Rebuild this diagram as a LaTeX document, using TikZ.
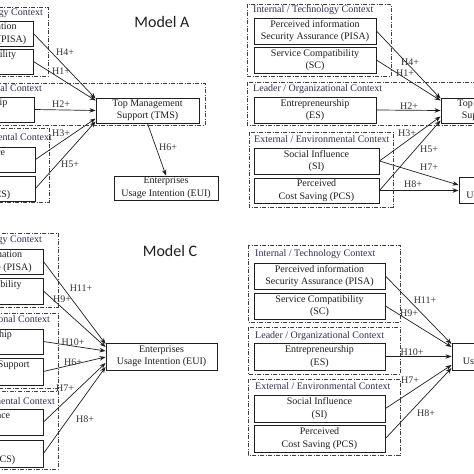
\documentclass[tikz,border=0pt]{standalone}
\usepackage{fontspec}
\setmainfont{Liberation Serif}
\newfontfamily\titlefont{Carlito}
\usetikzlibrary{arrows.meta}
\definecolor{ctx}{rgb}{0.2,0.18,0.32}
\definecolor{ink}{rgb}{0.12,0.12,0.12}
\begin{document}
\begin{tikzpicture}[x=1pt,y=-1pt,
  bx/.style={draw=ink, line width=0.9pt, fill=white, align=center, inner sep=0pt, font=\fontsize{10}{12.5}\selectfont, text=ink},
  grp/.style={draw=black!75, line width=0.8pt, dash pattern=on 4pt off 1.5pt on 1pt off 1.5pt},
  glab/.style={font=\fontsize{10}{12}\selectfont, text=ctx, inner sep=0pt},
  hl/.style={font=\fontsize{10}{12}\selectfont, text=black!80, inner sep=0.5pt},
  ar/.style={-{Stealth[length=6pt,width=4.5pt]}, line width=0.7pt, draw=ink},
  ttl/.style={font=\titlefont\fontsize{16}{18}\selectfont, text=ink}]
\clip (0,0) rectangle (474,474);
\useasboundingbox (0,0) rectangle (474,474);
\fill[white] (0,0) rectangle (474,474);

% ================= Model A =================
\draw[grp] (-97,7) rectangle (48,76);
\draw[grp] (-97,83) rectangle (205,125);
\draw[grp] (-95,128) rectangle (49,202);
\node[glab, anchor=east] (aTechL) at (43,13) {Internal / Technology Context};
\node[glab, anchor=east] (aOrgL) at (42,89) {Leader / Organizational Context};
\node[glab, anchor=east] (aEnvL) at (52,137) {External / Environmental Context};
\node[ttl] (aTitle) at (162,22) {Model A};
\node[bx, minimum width=122pt, minimum height=25pt] (aPISA) at (-28,33.5) {Perceived information\\Security Assurance (PISA)};
\node[bx, minimum width=122pt, minimum height=25pt] (aSC) at (-28,61.5) {Service Compatibility\\(SC)};
\node[bx, minimum width=122pt, minimum height=25pt] (aES) at (-27,109.5) {Entrepreneurship\\(ES)};
\node[bx, minimum width=125pt, minimum height=25pt] (aSI) at (-27.5,159.5) {Social Influence\\(SI)};
\node[bx, minimum width=125pt, minimum height=25pt] (aPCS) at (-27.5,188.5) {Perceived\\Cost Saving (PCS)};
\node[bx, minimum width=103pt, minimum height=25pt] (aTMS) at (147.5,110.5) {Top Management\\Support (TMS)};
\node[bx, minimum width=104pt, minimum height=24pt] (aEUI) at (166,188) {Enterprises\\Usage Intention (EUI)};
\draw[ar] (aPISA.east) -- ([yshift=-1pt]aTMS.north west);
\draw[ar] (aSC.east) -- ([yshift=-3pt]aTMS.north west);
\draw[ar] (aES.east) -- (aTMS.west);
\draw[ar] (aSI.east) -- ([yshift=-8pt]aTMS.west);
\draw[ar] (aPCS.east) -- ([yshift=-11pt]aTMS.west);
\draw[ar] (aTMS.south) -- (aEUI.north);
\node[hl] (aH4) at (65,52) {H4+};
\node[hl] (aH1) at (61,71) {H1+};
\node[hl] (aH2) at (61,104) {H2+};
\node[hl] (aH3) at (61,133) {H3+};
\node[hl] (aH5) at (70,164) {H5+};
\node[hl] (aH6) at (168,147) {H6+};

% ================= Model B =================
\draw[grp] (247,4) rectangle (391,76);
\draw[grp] (247,82) rectangle (551,125);
\draw[grp] (249,132) rectangle (393,207);
\node[glab, anchor=west] (bTechL) at (253,10) {Internal / Technology Context};
\node[glab, anchor=west] (bOrgL) at (253,89) {Leader / Organizational Context};
\node[glab, anchor=west] (bEnvL) at (254,139) {External / Environmental Context};
\node[bx, minimum width=122pt, minimum height=26pt] (bPISA) at (315,31) {Perceived information\\Security Assurance (PISA)};
\node[bx, minimum width=122pt, minimum height=26pt] (bSC) at (315,60) {Service Compatibility\\(SC)};
\node[bx, minimum width=122pt, minimum height=26pt] (bES) at (315,110) {Entrepreneurship\\(ES)};
\node[bx, minimum width=125pt, minimum height=26pt] (bSI) at (316.5,161) {Social Influence\\(SI)};
\node[bx, minimum width=125pt, minimum height=25pt] (bPCS) at (316.5,190.5) {Perceived\\Cost Saving (PCS)};
\node[bx, minimum width=103pt, minimum height=25pt] (bTMS) at (492.5,110.5) {Top Management\\Support (TMS)};
\node[bx, minimum width=104pt, minimum height=26pt] (bEUI) at (511,190) {Enterprises\\Usage Intention (EUI)};
\draw[ar] (bPISA.east) -- ([yshift=-1pt]bTMS.north west);
\draw[ar] (bSC.east) -- ([yshift=-3pt]bTMS.north west);
\draw[ar] (bES.east) -- (bTMS.west);
\draw[ar] (bSI.east) -- ([yshift=-6pt]bTMS.west);
\draw[ar] (bPCS.east) -- ([yshift=-10pt]bTMS.west);
\draw[ar] (bSI.east) -- ([yshift=5pt]bEUI.west);
\draw[ar] (bPCS.east) -- (bPCS.east -| bEUI.west);
\node[hl] (bH4) at (410,62) {H4+};
\node[hl] (bH1) at (405,73) {H1+};
\node[hl] (bH2) at (409,106) {H2+};
\node[hl] (bH3) at (407,133) {H3+};
\node[hl] (bH5) at (429,149) {H5+};
\node[hl] (bH7) at (429,167) {H7+};
\node[hl] (bH8) at (413,184) {H8+};

% ================= Model C =================
\draw[grp] (-94,233) rectangle (58,307);
\draw[grp] (-94,313) rectangle (58,388);
\draw[grp] (-94,391) rectangle (58,469);
\node[glab, anchor=east] (cTechL) at (42,240) {Internal / Technology Context};
\node[glab, anchor=east] (cOrgL) at (50,320) {Leader / Organizational Context};
\node[glab, anchor=east] (cEnvL) at (55,401) {External / Environmental Context};
\node[ttl] (cTitle) at (170,251) {Model C};
\node[bx, minimum width=131pt, minimum height=25pt] (cPISA) at (-22.5,261.5) {Perceived information\\Security Assurance (PISA)};
\node[bx, minimum width=131pt, minimum height=26pt] (cSC) at (-22.5,291) {Service Compatibility\\(SC)};
\node[bx, minimum width=131pt, minimum height=25pt] (cES) at (-22.5,341.5) {Entrepreneurship\\(ES)};
\node[bx, minimum width=131pt, minimum height=27pt] (cTMS) at (-22.5,371.5) {Top Management Support\\(TMS)};
\node[bx, minimum width=131pt, minimum height=26pt] (cSI) at (-22.5,422) {Social Influence\\(SI)};
\node[bx, minimum width=131pt, minimum height=27pt] (cPCS) at (-22.5,453.5) {Perceived\\Cost Saving (PCS)};
\node[bx, minimum width=111pt, minimum height=27pt] (cEUI) at (161.5,356.5) {Enterprises\\Usage Intention (EUI)};
\draw[ar] (cPISA.east) -- ([yshift=12.5pt]cEUI.west);
\draw[ar] (cSC.east) -- ([yshift=9.5pt]cEUI.west);
\draw[ar] (cES.east) -- ([yshift=5.5pt]cEUI.west);
\draw[ar] (cTMS.east) -- ([yshift=-0.5pt]cEUI.west);
\draw[ar] (cSI.east) -- ([yshift=-6.5pt]cEUI.west);
\draw[ar] (cPCS.east) -- ([yshift=-10.5pt]cEUI.west);
\node[hl] (cH11) at (81,288) {H11+};
\node[hl] (cH9) at (62,299) {H9+};
\node[hl] (cH10) at (73,342) {H10+};
\node[hl] (cH6) at (73,362) {H6+};
\node[hl] (cH7) at (65,388) {H7+};
\node[hl] (cH8) at (85,419) {H8+};

% ================= Model D =================
\draw[grp] (248,245) rectangle (400,322);
\draw[grp] (248,327) rectangle (400,374);
\draw[grp] (248,379) rectangle (400,455);
\node[glab, anchor=west] (dTechL) at (255,254) {Internal / Technology Context};
\node[glab, anchor=west] (dOrgL) at (255,336) {Leader / Organizational Context};
\node[glab, anchor=west] (dEnvL) at (255,386) {External / Environmental Context};
\node[bx, minimum width=131pt, minimum height=26pt] (dPISA) at (319.5,276) {Perceived information\\Security Assurance (PISA)};
\node[bx, minimum width=131pt, minimum height=26pt] (dSC) at (319.5,306) {Service Compatibility\\(SC)};
\node[bx, minimum width=131pt, minimum height=27pt] (dES) at (319.5,356.5) {Entrepreneurship\\(ES)};
\node[bx, minimum width=131pt, minimum height=27pt] (dSI) at (319.5,408.5) {Social Influence\\(SI)};
\node[bx, minimum width=131pt, minimum height=27pt] (dPCS) at (319.5,438.5) {Perceived\\Cost Saving (PCS)};
\node[bx, minimum width=111pt, minimum height=27pt] (dEUI) at (507.5,356.5) {Enterprises\\Usage Intention (EUI)};
\draw[ar] (dPISA.east) -- ([yshift=12.5pt]dEUI.west);
\draw[ar] (dSC.east) -- ([yshift=9.5pt]dEUI.west);
\draw[ar] (dES.east) -- (dEUI.west);
\draw[ar] (dSI.east) -- ([yshift=-8.5pt]dEUI.west);
\draw[ar] (dPCS.east) -- ([yshift=-11.5pt]dEUI.west);
\node[hl] (dH11) at (425,300) {H11+};
\node[hl] (dH9) at (409,313) {H9+};
\node[hl] (dH10) at (412,352) {H10+};
\node[hl] (dH7) at (410,380) {H7+};
\node[hl] (dH8) at (426,413) {H8+};
\end{tikzpicture}
\end{document}
